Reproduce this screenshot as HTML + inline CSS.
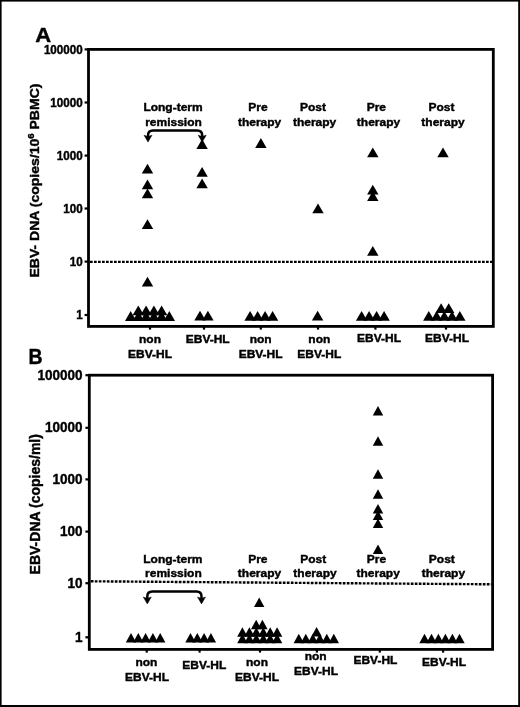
<!DOCTYPE html>
<html lang="en"><head><meta charset="utf-8"><title>EBV-DNA figure</title>
<style>
html,body{margin:0;padding:0;background:#fff;}
body{width:520px;height:707px;overflow:hidden;}
svg{display:block;font-family:"Liberation Sans",Arial,Helvetica,sans-serif;font-weight:bold;fill:#000;}
.ax{fill:none;stroke:#000;}
</style></head><body>
<svg width="520" height="707" viewBox="0 0 520 707">
<rect x="0" y="0" width="520" height="707" fill="#fff"/>
<!-- outer frame -->
<rect x="0" y="0" width="520" height="1.6"/>
<rect x="0" y="0" width="1.6" height="707"/>
<rect x="518.2" y="0" width="1.8" height="707"/>
<rect x="0" y="705" width="520" height="2"/>

<rect class="ax" x="88.5" y="49.4" width="404.8" height="277.0" stroke-width="2.8"/>
<rect x="84.6" y="48.3" width="4" height="2.2"/>
<text transform="translate(82.7 53.6) scale(0.97 1)" font-size="12" text-anchor="end" stroke="#000" stroke-width="0.4">100000</text>
<rect x="84.6" y="101.4" width="4" height="2.2"/>
<text transform="translate(82.7 106.7) scale(0.97 1)" font-size="12" text-anchor="end" stroke="#000" stroke-width="0.4">10000</text>
<rect x="84.6" y="154.5" width="4" height="2.2"/>
<text transform="translate(82.7 159.79999999999998) scale(0.97 1)" font-size="12" text-anchor="end" stroke="#000" stroke-width="0.4">1000</text>
<rect x="84.6" y="207.4" width="4" height="2.2"/>
<text transform="translate(82.7 212.7) scale(0.97 1)" font-size="12" text-anchor="end" stroke="#000" stroke-width="0.4">100</text>
<rect x="84.6" y="260.5" width="4" height="2.2"/>
<text transform="translate(82.7 265.8) scale(0.97 1)" font-size="12" text-anchor="end" stroke="#000" stroke-width="0.4">10</text>
<rect x="84.6" y="313.9" width="4" height="2.2"/>
<text transform="translate(82.7 319.2) scale(0.97 1)" font-size="12" text-anchor="end" stroke="#000" stroke-width="0.4">1</text>
<rect x="148.9" y="326.4" width="2.2" height="3.2"/>
<rect x="202.9" y="326.4" width="2.2" height="3.2"/>
<rect x="259.7" y="326.4" width="2.2" height="3.2"/>
<rect x="316.9" y="326.4" width="2.2" height="3.2"/>
<rect x="374.29999999999995" y="326.4" width="2.2" height="3.2"/>
<rect x="444.9" y="326.4" width="2.2" height="3.2"/>
<line x1="90.0" y1="261.9" x2="492.3" y2="261.9" stroke="#000" stroke-width="2.4" stroke-dasharray="2.7 1.3"/>
<text transform="translate(39.1 277.5) rotate(-90) scale(1.03 1)" font-size="13.6" text-anchor="start" stroke="#000" stroke-width="0.4">EBV- DNA (copies/10<tspan font-size="9.4" dy="-5">6</tspan><tspan dy="5"> PBMC)</tspan></text>
<text transform="translate(35.2 41.6) scale(1.07 1)" font-size="20.6" text-anchor="start" stroke="#000" stroke-width="0.4">A</text>
<text transform="translate(28.6 363.8) scale(0.9 1)" font-size="21.6" text-anchor="start" stroke="#000" stroke-width="0.4">B</text>
<text transform="translate(173 111) scale(1.09 1)" font-size="11" text-anchor="middle" stroke="#000" stroke-width="0.4">Long-term</text>
<text transform="translate(173.5 125.6) scale(1.09 1)" font-size="11" text-anchor="middle" stroke="#000" stroke-width="0.4">remission</text>
<text transform="translate(258 110.7) scale(1.09 1)" font-size="11" text-anchor="middle" stroke="#000" stroke-width="0.4">Pre</text>
<text transform="translate(259.6 125.6) scale(1.09 1)" font-size="11" text-anchor="middle" stroke="#000" stroke-width="0.4">therapy</text>
<text transform="translate(313 110.7) scale(1.09 1)" font-size="11" text-anchor="middle" stroke="#000" stroke-width="0.4">Post</text>
<text transform="translate(314.6 125.6) scale(1.09 1)" font-size="11" text-anchor="middle" stroke="#000" stroke-width="0.4">therapy</text>
<text transform="translate(376.3 110.7) scale(1.09 1)" font-size="11" text-anchor="middle" stroke="#000" stroke-width="0.4">Pre</text>
<text transform="translate(378.5 125.6) scale(1.09 1)" font-size="11" text-anchor="middle" stroke="#000" stroke-width="0.4">therapy</text>
<text transform="translate(441.5 110.7) scale(1.09 1)" font-size="11" text-anchor="middle" stroke="#000" stroke-width="0.4">Post</text>
<text transform="translate(443 125.6) scale(1.09 1)" font-size="11" text-anchor="middle" stroke="#000" stroke-width="0.4">therapy</text>
<path class="ax" stroke-width="2.5" d="M148,138.8 V135.5 Q148,130.5 153,130.5 H197.2 Q202.2,130.5 202.2,135.5 V138.8"/><polygon points="148,142.10000000000002 144,135.20000000000002 148,136.60000000000002 152,135.20000000000002" stroke="#000" stroke-width="0.5" stroke-linejoin="round"/><polygon points="202.2,142.10000000000002 198.2,135.20000000000002 202.2,136.60000000000002 206.2,135.20000000000002" stroke="#000" stroke-width="0.5" stroke-linejoin="round"/>
<g>
<polygon points="141.80,173.60 153.20,173.60 147.50,163.80"/>
<polygon points="141.80,189.30 153.20,189.30 147.50,179.50"/>
<polygon points="141.80,198.20 153.20,198.20 147.50,188.40"/>
<polygon points="141.80,229.10 153.20,229.10 147.50,219.30"/>
<polygon points="141.80,286.60 153.20,286.60 147.50,276.80"/>
<polygon points="132.60,315.30 144.00,315.30 138.30,305.50"/>
<polygon points="140.40,315.30 151.80,315.30 146.10,305.50"/>
<polygon points="148.20,315.30 159.60,315.30 153.90,305.50"/>
<polygon points="155.90,315.30 167.30,315.30 161.60,305.50"/>
<polygon points="125.00,320.90 136.40,320.90 130.70,311.10"/>
<polygon points="132.70,320.90 144.10,320.90 138.40,311.10"/>
<polygon points="140.40,320.90 151.80,320.90 146.10,311.10"/>
<polygon points="148.20,320.90 159.60,320.90 153.90,311.10"/>
<polygon points="155.90,320.90 167.30,320.90 161.60,311.10"/>
<polygon points="163.60,320.90 175.00,320.90 169.30,311.10"/>
<polygon points="196.40,148.90 207.80,148.90 202.10,139.10"/>
<polygon points="196.40,176.80 207.80,176.80 202.10,167.00"/>
<polygon points="196.40,188.30 207.80,188.30 202.10,178.50"/>
<polygon points="194.30,320.60 205.70,320.60 200.00,310.80"/>
<polygon points="202.20,320.60 213.60,320.60 207.90,310.80"/>
<polygon points="255.20,147.90 266.60,147.90 260.90,138.10"/>
<polygon points="244.40,320.80 255.80,320.80 250.10,311.00"/>
<polygon points="251.90,320.80 263.30,320.80 257.60,311.00"/>
<polygon points="259.40,320.80 270.80,320.80 265.10,311.00"/>
<polygon points="266.90,320.80 278.30,320.80 272.60,311.00"/>
<polygon points="312.30,213.30 323.70,213.30 318.00,203.50"/>
<polygon points="311.90,320.50 323.30,320.50 317.60,310.70"/>
<polygon points="367.10,157.30 378.50,157.30 372.80,147.50"/>
<polygon points="367.10,194.60 378.50,194.60 372.80,184.80"/>
<polygon points="367.10,201.10 378.50,201.10 372.80,191.30"/>
<polygon points="367.10,255.70 378.50,255.70 372.80,245.90"/>
<polygon points="355.90,320.70 367.30,320.70 361.60,310.90"/>
<polygon points="363.40,320.70 374.80,320.70 369.10,310.90"/>
<polygon points="370.90,320.70 382.30,320.70 376.60,310.90"/>
<polygon points="378.40,320.70 389.80,320.70 384.10,310.90"/>
<polygon points="437.30,157.30 448.70,157.30 443.00,147.50"/>
<polygon points="435.40,313.00 446.80,313.00 441.10,303.20"/>
<polygon points="443.00,313.00 454.40,313.00 448.70,303.20"/>
<polygon points="423.10,320.70 434.50,320.70 428.80,310.90"/>
<polygon points="430.90,320.70 442.30,320.70 436.60,310.90"/>
<polygon points="438.60,320.70 450.00,320.70 444.30,310.90"/>
<polygon points="446.30,320.70 457.70,320.70 452.00,310.90"/>
<polygon points="454.10,320.70 465.50,320.70 459.80,310.90"/>
</g>
<text transform="translate(150 343.4) scale(1.09 1)" font-size="11" text-anchor="middle" stroke="#000" stroke-width="0.4">non</text>
<text transform="translate(150 357.9) scale(1.09 1)" font-size="11" text-anchor="middle" stroke="#000" stroke-width="0.4">EBV-HL</text>
<text transform="translate(207.7 343.4) scale(1.09 1)" font-size="11" text-anchor="middle" stroke="#000" stroke-width="0.4">EBV-HL</text>
<text transform="translate(260.6 343.4) scale(1.09 1)" font-size="11" text-anchor="middle" stroke="#000" stroke-width="0.4">non</text>
<text transform="translate(260.6 357.9) scale(1.09 1)" font-size="11" text-anchor="middle" stroke="#000" stroke-width="0.4">EBV-HL</text>
<text transform="translate(319.3 343.4) scale(1.09 1)" font-size="11" text-anchor="middle" stroke="#000" stroke-width="0.4">non</text>
<text transform="translate(319.3 357.9) scale(1.09 1)" font-size="11" text-anchor="middle" stroke="#000" stroke-width="0.4">EBV-HL</text>
<text transform="translate(379 342.1) scale(1.09 1)" font-size="11" text-anchor="middle" stroke="#000" stroke-width="0.4">EBV-HL</text>
<text transform="translate(447 342.1) scale(1.09 1)" font-size="11" text-anchor="middle" stroke="#000" stroke-width="0.4">EBV-HL</text>
<rect class="ax" x="89.3" y="375.2" width="403.3" height="274.2" stroke-width="2.8"/>
<rect x="85.4" y="374.09999999999997" width="4" height="2.2"/>
<text transform="translate(82.6 379.7) scale(0.965 1)" font-size="14" text-anchor="end" stroke="#000" stroke-width="0.4">100000</text>
<rect x="85.4" y="426.7" width="4" height="2.2"/>
<text transform="translate(82.6 432.3) scale(0.965 1)" font-size="14" text-anchor="end" stroke="#000" stroke-width="0.4">10000</text>
<rect x="85.4" y="478.29999999999995" width="4" height="2.2"/>
<text transform="translate(82.6 483.9) scale(0.965 1)" font-size="14" text-anchor="end" stroke="#000" stroke-width="0.4">1000</text>
<rect x="85.4" y="530.5" width="4" height="2.2"/>
<text transform="translate(82.6 536.1) scale(0.965 1)" font-size="14" text-anchor="end" stroke="#000" stroke-width="0.4">100</text>
<rect x="85.4" y="582.1" width="4" height="2.2"/>
<text transform="translate(82.6 587.7) scale(0.965 1)" font-size="14" text-anchor="end" stroke="#000" stroke-width="0.4">10</text>
<rect x="85.4" y="636.1999999999999" width="4" height="2.2"/>
<text transform="translate(82.6 641.8) scale(0.965 1)" font-size="14" text-anchor="end" stroke="#000" stroke-width="0.4">1</text>
<rect x="145.6" y="649.4" width="2.2" height="3.2"/>
<rect x="198.5" y="649.4" width="2.2" height="3.2"/>
<rect x="258.9" y="649.4" width="2.2" height="3.2"/>
<rect x="315.79999999999995" y="649.4" width="2.2" height="3.2"/>
<rect x="378.7" y="649.4" width="2.2" height="3.2"/>
<rect x="442.0" y="649.4" width="2.2" height="3.2"/>
<line x1="90.8" y1="581.3" x2="491.6" y2="584.3" stroke="#000" stroke-width="2.4" stroke-dasharray="2.7 1.3"/>
<text transform="translate(40.2 574.4) rotate(-90)" font-size="14" text-anchor="start" stroke="#000" stroke-width="0.4">EBV-DNA (copies/ml)</text>
<text transform="translate(172.9 563.3) scale(1.09 1)" font-size="11" text-anchor="middle" stroke="#000" stroke-width="0.4">Long-term</text>
<text transform="translate(173.4 576.8) scale(1.09 1)" font-size="11" text-anchor="middle" stroke="#000" stroke-width="0.4">remission</text>
<text transform="translate(257.8 562.7) scale(1.09 1)" font-size="11" text-anchor="middle" stroke="#000" stroke-width="0.4">Pre</text>
<text transform="translate(259.5 576.8) scale(1.09 1)" font-size="11" text-anchor="middle" stroke="#000" stroke-width="0.4">therapy</text>
<text transform="translate(313.2 562.7) scale(1.09 1)" font-size="11" text-anchor="middle" stroke="#000" stroke-width="0.4">Post</text>
<text transform="translate(315 576.8) scale(1.09 1)" font-size="11" text-anchor="middle" stroke="#000" stroke-width="0.4">therapy</text>
<text transform="translate(376.4 562.5) scale(1.09 1)" font-size="11" text-anchor="middle" stroke="#000" stroke-width="0.4">Pre</text>
<text transform="translate(378.2 576.6) scale(1.09 1)" font-size="11" text-anchor="middle" stroke="#000" stroke-width="0.4">therapy</text>
<text transform="translate(441.8 562.5) scale(1.09 1)" font-size="11" text-anchor="middle" stroke="#000" stroke-width="0.4">Post</text>
<text transform="translate(443.4 576.6) scale(1.09 1)" font-size="11" text-anchor="middle" stroke="#000" stroke-width="0.4">therapy</text>
<path class="ax" stroke-width="2.5" d="M147.3,600.6 V596.5 Q147.3,591.5 152.3,591.5 H196.5 Q201.5,591.5 201.5,596.5 V600.6"/><polygon points="147.3,603.9 143.3,597.0 147.3,598.4 151.3,597.0" stroke="#000" stroke-width="0.5" stroke-linejoin="round"/><polygon points="201.5,603.9 197.5,597.0 201.5,598.4 205.5,597.0" stroke="#000" stroke-width="0.5" stroke-linejoin="round"/>
<g>
<polygon points="125.80,642.60 136.20,642.60 131.00,633.10"/>
<polygon points="133.10,642.60 143.50,642.60 138.30,633.10"/>
<polygon points="140.40,642.60 150.80,642.60 145.60,633.10"/>
<polygon points="147.70,642.60 158.10,642.60 152.90,633.10"/>
<polygon points="155.00,642.60 165.40,642.60 160.20,633.10"/>
<polygon points="185.30,642.60 195.70,642.60 190.50,633.10"/>
<polygon points="192.10,642.60 202.50,642.60 197.30,633.10"/>
<polygon points="198.90,642.60 209.30,642.60 204.10,633.10"/>
<polygon points="205.70,642.60 216.10,642.60 210.90,633.10"/>
<polygon points="254.00,607.00 264.40,607.00 259.20,597.50"/>
<polygon points="251.00,629.20 261.40,629.20 256.20,619.70"/>
<polygon points="257.20,629.20 267.60,629.20 262.40,619.70"/>
<polygon points="237.20,636.80 247.60,636.80 242.40,627.30"/>
<polygon points="237.20,643.20 247.60,643.20 242.40,633.70"/>
<polygon points="244.20,636.80 254.60,636.80 249.40,627.30"/>
<polygon points="244.20,643.20 254.60,643.20 249.40,633.70"/>
<polygon points="251.10,636.80 261.50,636.80 256.30,627.30"/>
<polygon points="251.10,643.20 261.50,643.20 256.30,633.70"/>
<polygon points="258.10,636.80 268.50,636.80 263.30,627.30"/>
<polygon points="258.10,643.20 268.50,643.20 263.30,633.70"/>
<polygon points="265.00,636.80 275.40,636.80 270.20,627.30"/>
<polygon points="265.00,643.20 275.40,643.20 270.20,633.70"/>
<polygon points="271.90,636.80 282.30,636.80 277.10,627.30"/>
<polygon points="271.90,643.20 282.30,643.20 277.10,633.70"/>
<polygon points="293.60,643.30 304.00,643.30 298.80,633.80"/>
<polygon points="300.60,643.30 311.00,643.30 305.80,633.80"/>
<polygon points="307.60,643.30 318.00,643.30 312.80,633.80"/>
<polygon points="314.60,643.30 325.00,643.30 319.80,633.80"/>
<polygon points="321.60,643.30 332.00,643.30 326.80,633.80"/>
<polygon points="328.60,643.30 339.00,643.30 333.80,633.80"/>
<polygon points="311.40,636.50 321.80,636.50 316.60,627.00"/>
<polygon points="372.80,415.40 383.20,415.40 378.00,405.90"/>
<polygon points="372.80,445.70 383.20,445.70 378.00,436.20"/>
<polygon points="372.80,478.70 383.20,478.70 378.00,469.20"/>
<polygon points="372.80,498.80 383.20,498.80 378.00,489.30"/>
<polygon points="372.80,513.40 383.20,513.40 378.00,503.90"/>
<polygon points="372.80,520.00 383.20,520.00 378.00,510.50"/>
<polygon points="372.80,528.00 383.20,528.00 378.00,518.50"/>
<polygon points="372.80,554.00 383.20,554.00 378.00,544.50"/>
<polygon points="419.30,643.20 429.70,643.20 424.50,633.70"/>
<polygon points="426.30,643.20 436.70,643.20 431.50,633.70"/>
<polygon points="433.20,643.20 443.60,643.20 438.40,633.70"/>
<polygon points="440.20,643.20 450.60,643.20 445.40,633.70"/>
<polygon points="447.20,643.20 457.60,643.20 452.40,633.70"/>
<polygon points="454.30,643.20 464.70,643.20 459.50,633.70"/>
</g>
<text transform="translate(146.4 666.4) scale(1.09 1)" font-size="11" text-anchor="middle" stroke="#000" stroke-width="0.4">non</text>
<text transform="translate(147 680.5) scale(1.09 1)" font-size="11" text-anchor="middle" stroke="#000" stroke-width="0.4">EBV-HL</text>
<text transform="translate(204.3 669.4) scale(1.09 1)" font-size="11" text-anchor="middle" stroke="#000" stroke-width="0.4">EBV-HL</text>
<text transform="translate(257 666.4) scale(1.09 1)" font-size="11" text-anchor="middle" stroke="#000" stroke-width="0.4">non</text>
<text transform="translate(257 680.5) scale(1.09 1)" font-size="11" text-anchor="middle" stroke="#000" stroke-width="0.4">EBV-HL</text>
<text transform="translate(315.7 660.4) scale(1.09 1)" font-size="11" text-anchor="middle" stroke="#000" stroke-width="0.4">non</text>
<text transform="translate(316 675) scale(1.09 1)" font-size="11" text-anchor="middle" stroke="#000" stroke-width="0.4">EBV-HL</text>
<text transform="translate(375.4 664) scale(1.09 1)" font-size="11" text-anchor="middle" stroke="#000" stroke-width="0.4">EBV-HL</text>
<text transform="translate(444 666.3) scale(1.09 1)" font-size="11" text-anchor="middle" stroke="#000" stroke-width="0.4">EBV-HL</text>
</svg></body></html>
